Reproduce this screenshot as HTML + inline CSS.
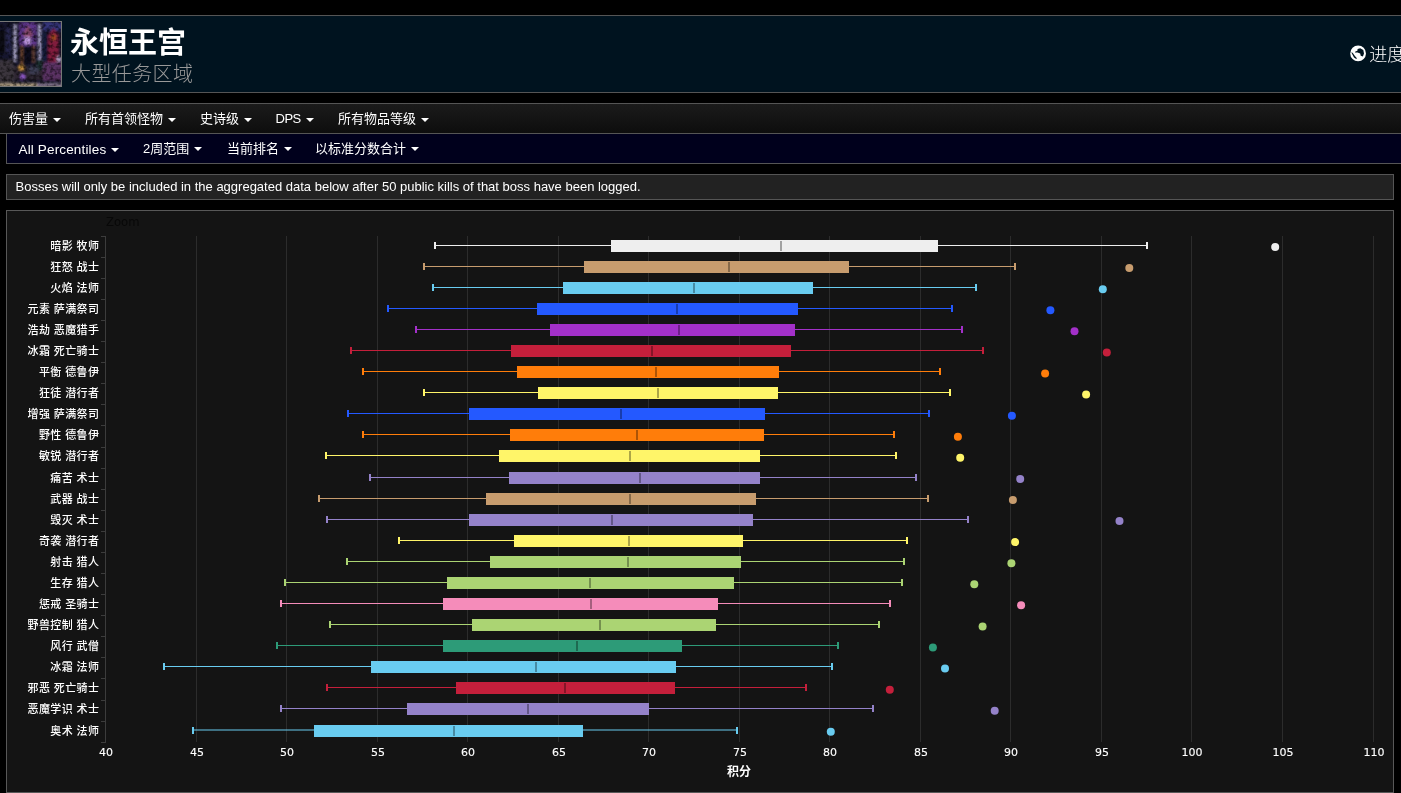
<!DOCTYPE html>
<html lang="zh"><head><meta charset="utf-8"><title>永恒王宫</title>
<style>
html,body{margin:0;padding:0;background:#000;}
body{width:1401px;height:793px;overflow:hidden;position:relative;font-family:"Liberation Sans","Noto Sans CJK SC",sans-serif;color:#fff;}
.abs{position:absolute;box-sizing:border-box;}
#hdr{left:-1px;top:15px;width:1403px;height:78px;background:#00131f;border:1px solid #555;}
#thumb{left:-4px;top:21px;width:66px;height:66px;border:1px solid #777;overflow:hidden;background:#2a2040;}
#title{left:70px;top:25px;font-size:29px;font-weight:bold;line-height:36px;white-space:nowrap;}
#sub{left:71px;top:59.8px;font-weight:300;font-size:20px;letter-spacing:0.4px;line-height:28px;color:#999;white-space:nowrap;}
#prog{left:1369.3px;top:42.5px;font-weight:300;font-size:18px;line-height:24px;white-space:nowrap;}
#menu{left:-1px;top:103px;width:1403px;height:31px;border:1px solid #555;background:linear-gradient(#1b1b1b,#0d0d0d);}
#filt{left:6px;top:134px;width:1400px;height:30px;border:1px solid #555;border-top:none;background:#00001c;}
.mi{position:absolute;font-size:13px;line-height:16px;white-space:nowrap;}
.car{display:inline-block;width:0;height:0;border-left:4px solid transparent;border-right:4px solid transparent;border-top:4px solid #fff;vertical-align:middle;margin-left:5px;}
#note{left:6px;top:174px;width:1388px;height:26px;border:1px solid #555;background:#222;font-size:13px;line-height:24px;padding-left:8.5px;white-space:nowrap;}
#chart{left:6px;top:210px;width:1388px;height:583px;border:1px solid #585858;background:#141414;}
</style></head><body>
<div class="abs" id="hdr"></div>
<div class="abs" id="thumb"><svg width="66" height="66" viewBox="0 0 66 66">
<defs><filter id="bl" x="-20%" y="-20%" width="140%" height="140%"><feGaussianBlur stdDeviation="1.3"/></filter><filter id="bl2"><feGaussianBlur stdDeviation="0.8"/></filter>
<filter id="nz" x="0" y="0" width="100%" height="100%"><feTurbulence type="fractalNoise" baseFrequency="0.3" numOctaves="2" seed="11" result="t"/><feColorMatrix in="t" type="matrix" values="0 0 0 0 0  0 0 0 0 0  0 0 0 0 0  1.5 0 0 0 -0.6"/></filter></defs>
<rect width="66" height="66" fill="#17162c"/>
<g filter="url(#bl)">
<rect x="0" y="0" width="16" height="44" fill="#17172e"/>
<rect x="9" y="6" width="5" height="26" fill="#28284e"/>
<rect x="0" y="8" width="8" height="24" fill="#0c0c18"/>
<rect x="0" y="38" width="17" height="22" fill="#3a363e"/>
<rect x="22" y="0" width="18" height="24" fill="#5c3688"/>
<path d="M31 3 L36 12 L31 21 L26 12 Z" fill="#8a4a70"/>
<ellipse cx="30.5" cy="18.5" rx="3.5" ry="4" fill="#c09ae0"/>
<rect x="23.5" y="23" width="2.4" height="20" fill="#7a4c28"/>
<rect x="35.5" y="23" width="2.4" height="18" fill="#6c4434"/>
<rect x="27" y="24" width="8" height="17" fill="#0a0a1a"/>
<rect x="46" y="0" width="20" height="9" fill="#34347a"/>
<path d="M56.5 6 L62 13 L62 42 L51 42 L51 13 Z" fill="#801c3c"/>
<ellipse cx="56.6" cy="15.5" rx="2.6" ry="3" fill="#a04a1e"/>
<rect x="45" y="10" width="5.5" height="34" fill="#151a3c"/>
<rect x="17" y="44" width="49" height="14" fill="#2e2830"/>
<ellipse cx="24.4" cy="45.5" rx="3" ry="3" fill="#d09840"/>
<ellipse cx="25.7" cy="55" rx="2.5" ry="3.5" fill="#8a56c0"/>
<rect x="46" y="40" width="20" height="19" fill="#5a3064"/>
<ellipse cx="62" cy="37" rx="2.5" ry="3" fill="#b0a0c8"/>
<rect x="0" y="61" width="40" height="5" fill="#a8987e"/>
<rect x="40" y="61" width="26" height="5" fill="#80728a"/>
<rect x="39" y="38" width="7" height="10" fill="#1c3030"/>
<rect x="32" y="44" width="9" height="8" fill="#3a3c52"/>
</g>
<g filter="url(#bl2)">
<rect x="16.4" y="2" width="3.4" height="38" fill="#a8a4c4"/>
<rect x="40.9" y="2" width="3.4" height="36" fill="#aca6cc"/>
</g>
<rect width="66" height="66" fill="#000" filter="url(#nz)"/>
</svg></div>
<div class="abs" id="title">永恒王宫</div>
<div class="abs" id="sub">大型任务区域</div>
<svg class="abs" style="left:1349px;top:44px" width="18" height="18" viewBox="-9 -9 18 18"><circle cx="0.1" cy="0.4" r="7.85" fill="#fff"/><path d="M-0.4,-3.9 L2.2,-4.8 L5.3,-3 L6,0.5 L4.9,3.6 L2.7,2.7 L2.2,0.5 L-0.4,-0.4 L-3.1,-0.6 L-2.6,-1.5 L-0.6,-2.2 Z" fill="#00131f"/><path d="M-6.3,-1.1 L-4.85,0.5 L-3.1,3.1 L-1.1,5.3 L-1.8,6 L-4,4.4 L-5.5,1.8 L-6.4,0 Z" fill="#00131f"/></svg>
<div class="abs" id="prog">进度</div>
<div class="abs" id="menu">
<span class="mi" style="left:9px;top:7.2px">伤害量<i class="car"></i></span>
<span class="mi" style="left:85px;top:7.2px">所有首领怪物<i class="car"></i></span>
<span class="mi" style="left:200px;top:7.2px">史诗级<i class="car"></i></span>
<span class="mi" style="left:275.6px;top:7.2px"><span style="letter-spacing:-0.55px">DPS</span><i class="car"></i></span>
<span class="mi" style="left:338px;top:7.2px">所有物品等级<i class="car"></i></span>
</div>
<div class="abs" id="filt">
<span class="mi" style="left:11.5px;top:7.6px;font-size:13.5px;letter-spacing:0.15px">All Percentiles<i class="car"></i></span>
<span class="mi" style="left:136px;top:6.9px">2周范围<i class="car"></i></span>
<span class="mi" style="left:220px;top:6.9px">当前排名<i class="car"></i></span>
<span class="mi" style="left:308px;top:6.9px">以标准分数合计<i class="car"></i></span>
</div>
<div class="abs" id="note">Bosses will only be included in the aggregated data below after 50 public kills of that boss have been logged.</div>
<div class="abs" id="chart"></div>
<svg width="1401" height="793" viewBox="0 0 1401 793" style="position:absolute;left:0;top:0">
<rect x="196" y="236" width="1" height="506" fill="#2c2c2c"/>
<rect x="286" y="236" width="1" height="506" fill="#2c2c2c"/>
<rect x="377" y="236" width="1" height="506" fill="#2c2c2c"/>
<rect x="467" y="236" width="1" height="506" fill="#2c2c2c"/>
<rect x="558" y="236" width="1" height="506" fill="#2c2c2c"/>
<rect x="648" y="236" width="1" height="506" fill="#2c2c2c"/>
<rect x="739" y="236" width="1" height="506" fill="#2c2c2c"/>
<rect x="829" y="236" width="1" height="506" fill="#2c2c2c"/>
<rect x="920" y="236" width="1" height="506" fill="#2c2c2c"/>
<rect x="1010" y="236" width="1" height="506" fill="#2c2c2c"/>
<rect x="1101" y="236" width="1" height="506" fill="#2c2c2c"/>
<rect x="1191" y="236" width="1" height="506" fill="#2c2c2c"/>
<rect x="1282" y="236" width="1" height="506" fill="#2c2c2c"/>
<rect x="1373" y="236" width="1" height="506" fill="#2c2c2c"/>
<rect x="105" y="236" width="1" height="507" fill="#3c3c3c"/>
<rect x="101" y="236" width="5" height="1" fill="#3c3c3c"/>
<rect x="101" y="257" width="5" height="1" fill="#3c3c3c"/>
<rect x="101" y="278" width="5" height="1" fill="#3c3c3c"/>
<rect x="101" y="299" width="5" height="1" fill="#3c3c3c"/>
<rect x="101" y="320" width="5" height="1" fill="#3c3c3c"/>
<rect x="101" y="341" width="5" height="1" fill="#3c3c3c"/>
<rect x="101" y="362" width="5" height="1" fill="#3c3c3c"/>
<rect x="101" y="383" width="5" height="1" fill="#3c3c3c"/>
<rect x="101" y="404" width="5" height="1" fill="#3c3c3c"/>
<rect x="101" y="425" width="5" height="1" fill="#3c3c3c"/>
<rect x="101" y="447" width="5" height="1" fill="#3c3c3c"/>
<rect x="101" y="468" width="5" height="1" fill="#3c3c3c"/>
<rect x="101" y="489" width="5" height="1" fill="#3c3c3c"/>
<rect x="101" y="510" width="5" height="1" fill="#3c3c3c"/>
<rect x="101" y="531" width="5" height="1" fill="#3c3c3c"/>
<rect x="101" y="552" width="5" height="1" fill="#3c3c3c"/>
<rect x="101" y="573" width="5" height="1" fill="#3c3c3c"/>
<rect x="101" y="594" width="5" height="1" fill="#3c3c3c"/>
<rect x="101" y="615" width="5" height="1" fill="#3c3c3c"/>
<rect x="101" y="636" width="5" height="1" fill="#3c3c3c"/>
<rect x="101" y="657" width="5" height="1" fill="#3c3c3c"/>
<rect x="101" y="678" width="5" height="1" fill="#3c3c3c"/>
<rect x="101" y="700" width="5" height="1" fill="#3c3c3c"/>
<rect x="101" y="721" width="5" height="1" fill="#3c3c3c"/>
<rect x="101" y="742" width="5" height="1" fill="#3c3c3c"/>
<g fill="#EEEEEE">
<rect x="435" y="245" width="712" height="1"/>
<rect x="434" y="242" width="2" height="7"/>
<rect x="1146" y="242" width="2" height="7"/>
<rect x="611" y="240" width="327" height="12"/>
<rect x="780" y="241" width="2" height="10" fill="#000" fill-opacity="0.32"/>
<circle cx="1275.2" cy="247.00" r="4"/>
</g>
<g fill="#C79C6E">
<rect x="424" y="266" width="591" height="1"/>
<rect x="423" y="263" width="2" height="7"/>
<rect x="1014" y="263" width="2" height="7"/>
<rect x="584" y="261" width="265" height="12"/>
<rect x="728" y="262" width="2" height="10" fill="#000" fill-opacity="0.32"/>
<circle cx="1129.3" cy="268.08" r="4"/>
</g>
<g fill="#69CCF0">
<rect x="433" y="287" width="543" height="1"/>
<rect x="432" y="284" width="2" height="7"/>
<rect x="975" y="284" width="2" height="7"/>
<rect x="563" y="282" width="250" height="12"/>
<rect x="693" y="283" width="2" height="10" fill="#000" fill-opacity="0.32"/>
<circle cx="1102.8" cy="289.16" r="4"/>
</g>
<g fill="#2459FF">
<rect x="388" y="308" width="564" height="1"/>
<rect x="387" y="305" width="2" height="7"/>
<rect x="951" y="305" width="2" height="7"/>
<rect x="537" y="303" width="261" height="12"/>
<rect x="676" y="304" width="2" height="10" fill="#000" fill-opacity="0.32"/>
<circle cx="1050.4" cy="310.24" r="4"/>
</g>
<g fill="#A330C9">
<rect x="416" y="329" width="546" height="1"/>
<rect x="415" y="326" width="2" height="7"/>
<rect x="961" y="326" width="2" height="7"/>
<rect x="550" y="324" width="245" height="12"/>
<rect x="678" y="325" width="2" height="10" fill="#000" fill-opacity="0.32"/>
<circle cx="1074.5" cy="331.32" r="4"/>
</g>
<g fill="#C41F3B">
<rect x="351" y="350" width="632" height="1"/>
<rect x="350" y="347" width="2" height="7"/>
<rect x="982" y="347" width="2" height="7"/>
<rect x="511" y="345" width="280" height="12"/>
<rect x="651" y="346" width="2" height="10" fill="#000" fill-opacity="0.32"/>
<circle cx="1106.8" cy="352.40" r="4"/>
</g>
<g fill="#FF7D0A">
<rect x="363" y="371" width="577" height="1"/>
<rect x="362" y="368" width="2" height="7"/>
<rect x="939" y="368" width="2" height="7"/>
<rect x="517" y="366" width="262" height="12"/>
<rect x="655" y="367" width="2" height="10" fill="#000" fill-opacity="0.32"/>
<circle cx="1045.1" cy="373.48" r="4"/>
</g>
<g fill="#FFF569">
<rect x="424" y="392" width="526" height="1"/>
<rect x="423" y="389" width="2" height="7"/>
<rect x="949" y="389" width="2" height="7"/>
<rect x="538" y="387" width="240" height="12"/>
<rect x="657" y="388" width="2" height="10" fill="#000" fill-opacity="0.32"/>
<circle cx="1086.1" cy="394.56" r="4"/>
</g>
<g fill="#2459FF">
<rect x="348" y="413" width="581" height="1"/>
<rect x="347" y="410" width="2" height="7"/>
<rect x="928" y="410" width="2" height="7"/>
<rect x="469" y="408" width="296" height="12"/>
<rect x="620" y="409" width="2" height="10" fill="#000" fill-opacity="0.32"/>
<circle cx="1011.9" cy="415.64" r="4"/>
</g>
<g fill="#FF7D0A">
<rect x="363" y="434" width="531" height="1"/>
<rect x="362" y="431" width="2" height="7"/>
<rect x="893" y="431" width="2" height="7"/>
<rect x="510" y="429" width="254" height="12"/>
<rect x="636" y="430" width="2" height="10" fill="#000" fill-opacity="0.32"/>
<circle cx="957.9" cy="436.72" r="4"/>
</g>
<g fill="#FFF569">
<rect x="326" y="455" width="570" height="1"/>
<rect x="325" y="452" width="2" height="7"/>
<rect x="895" y="452" width="2" height="7"/>
<rect x="499" y="450" width="261" height="12"/>
<rect x="629" y="451" width="2" height="10" fill="#000" fill-opacity="0.32"/>
<circle cx="960.2" cy="457.80" r="4"/>
</g>
<g fill="#9482C9">
<rect x="370" y="477" width="546" height="1"/>
<rect x="369" y="474" width="2" height="7"/>
<rect x="915" y="474" width="2" height="7"/>
<rect x="509" y="472" width="251" height="12"/>
<rect x="639" y="473" width="2" height="10" fill="#000" fill-opacity="0.32"/>
<circle cx="1020.2" cy="478.88" r="4"/>
</g>
<g fill="#C79C6E">
<rect x="319" y="498" width="609" height="1"/>
<rect x="318" y="495" width="2" height="7"/>
<rect x="927" y="495" width="2" height="7"/>
<rect x="486" y="493" width="270" height="12"/>
<rect x="629" y="494" width="2" height="10" fill="#000" fill-opacity="0.32"/>
<circle cx="1012.9" cy="499.96" r="4"/>
</g>
<g fill="#9482C9">
<rect x="327" y="519" width="641" height="1"/>
<rect x="326" y="516" width="2" height="7"/>
<rect x="967" y="516" width="2" height="7"/>
<rect x="469" y="514" width="284" height="12"/>
<rect x="611" y="515" width="2" height="10" fill="#000" fill-opacity="0.32"/>
<circle cx="1119.5" cy="521.04" r="4"/>
</g>
<g fill="#FFF569">
<rect x="399" y="540" width="508" height="1"/>
<rect x="398" y="537" width="2" height="7"/>
<rect x="906" y="537" width="2" height="7"/>
<rect x="514" y="535" width="229" height="12"/>
<rect x="628" y="536" width="2" height="10" fill="#000" fill-opacity="0.32"/>
<circle cx="1015.1" cy="542.12" r="4"/>
</g>
<g fill="#ABD473">
<rect x="347" y="561" width="557" height="1"/>
<rect x="346" y="558" width="2" height="7"/>
<rect x="903" y="558" width="2" height="7"/>
<rect x="490" y="556" width="251" height="12"/>
<rect x="627" y="557" width="2" height="10" fill="#000" fill-opacity="0.32"/>
<circle cx="1011.4" cy="563.20" r="4"/>
</g>
<g fill="#ABD473">
<rect x="285" y="582" width="617" height="1"/>
<rect x="284" y="579" width="2" height="7"/>
<rect x="901" y="579" width="2" height="7"/>
<rect x="447" y="577" width="287" height="12"/>
<rect x="589" y="578" width="2" height="10" fill="#000" fill-opacity="0.32"/>
<circle cx="974.3" cy="584.28" r="4"/>
</g>
<g fill="#F58CBA">
<rect x="281" y="603" width="609" height="1"/>
<rect x="280" y="600" width="2" height="7"/>
<rect x="889" y="600" width="2" height="7"/>
<rect x="443" y="598" width="275" height="12"/>
<rect x="590" y="599" width="2" height="10" fill="#000" fill-opacity="0.32"/>
<circle cx="1021.1" cy="605.36" r="4"/>
</g>
<g fill="#ABD473">
<rect x="330" y="624" width="549" height="1"/>
<rect x="329" y="621" width="2" height="7"/>
<rect x="878" y="621" width="2" height="7"/>
<rect x="472" y="619" width="244" height="12"/>
<rect x="599" y="620" width="2" height="10" fill="#000" fill-opacity="0.32"/>
<circle cx="982.6" cy="626.44" r="4"/>
</g>
<g fill="#2D9B78">
<rect x="277" y="645" width="561" height="1"/>
<rect x="276" y="642" width="2" height="7"/>
<rect x="837" y="642" width="2" height="7"/>
<rect x="443" y="640" width="239" height="12"/>
<rect x="576" y="641" width="2" height="10" fill="#000" fill-opacity="0.32"/>
<circle cx="932.9" cy="647.52" r="4"/>
</g>
<g fill="#69CCF0">
<rect x="164" y="666" width="668" height="1"/>
<rect x="163" y="663" width="2" height="7"/>
<rect x="831" y="663" width="2" height="7"/>
<rect x="371" y="661" width="305" height="12"/>
<rect x="535" y="662" width="2" height="10" fill="#000" fill-opacity="0.32"/>
<circle cx="945" cy="668.60" r="4"/>
</g>
<g fill="#C41F3B">
<rect x="327" y="687" width="479" height="1"/>
<rect x="326" y="684" width="2" height="7"/>
<rect x="805" y="684" width="2" height="7"/>
<rect x="456" y="682" width="219" height="12"/>
<rect x="564" y="683" width="2" height="10" fill="#000" fill-opacity="0.32"/>
<circle cx="889.8" cy="689.68" r="4"/>
</g>
<g fill="#9482C9">
<rect x="281" y="708" width="592" height="1"/>
<rect x="280" y="705" width="2" height="7"/>
<rect x="872" y="705" width="2" height="7"/>
<rect x="407" y="703" width="242" height="12"/>
<rect x="527" y="704" width="2" height="10" fill="#000" fill-opacity="0.32"/>
<circle cx="994.7" cy="710.76" r="4"/>
</g>
<g fill="#69CCF0">
<rect x="193" y="729.5" width="544" height="1"/>
<rect x="192" y="727" width="2" height="7"/>
<rect x="736" y="727" width="2" height="7"/>
<rect x="314" y="725" width="269" height="12"/>
<rect x="453" y="726" width="2" height="10" fill="#000" fill-opacity="0.32"/>
<circle cx="830.8" cy="731.84" r="4"/>
</g>
<g font-family="Liberation Sans, Noto Sans CJK SC, sans-serif" font-size="11" font-weight="500" letter-spacing="0.4" fill="#fff" text-anchor="end">
<text x="99.4" y="250">暗影 牧师</text>
<text x="99.4" y="271">狂怒 战士</text>
<text x="99.4" y="292">火焰 法师</text>
<text x="99.4" y="313">元素 萨满祭司</text>
<text x="99.4" y="334">浩劫 恶魔猎手</text>
<text x="99.4" y="355">冰霜 死亡骑士</text>
<text x="99.4" y="376">平衡 德鲁伊</text>
<text x="99.4" y="397">狂徒 潜行者</text>
<text x="99.4" y="418">增强 萨满祭司</text>
<text x="99.4" y="439">野性 德鲁伊</text>
<text x="99.4" y="460">敏锐 潜行者</text>
<text x="99.4" y="482">痛苦 术士</text>
<text x="99.4" y="503">武器 战士</text>
<text x="99.4" y="524">毁灭 术士</text>
<text x="99.4" y="545">奇袭 潜行者</text>
<text x="99.4" y="566">射击 猎人</text>
<text x="99.4" y="587">生存 猎人</text>
<text x="99.4" y="608">惩戒 圣骑士</text>
<text x="99.4" y="629">野兽控制 猎人</text>
<text x="99.4" y="650">风行 武僧</text>
<text x="99.4" y="671">冰霜 法师</text>
<text x="99.4" y="692">邪恶 死亡骑士</text>
<text x="99.4" y="713">恶魔学识 术士</text>
<text x="99.4" y="735">奥术 法师</text>
</g>
<g font-family="DejaVu Sans, Liberation Sans, sans-serif" font-size="11" fill="#fff" stroke="#fff" stroke-width="0.12" text-anchor="middle">
<text x="105.9" y="756">40</text>
<text x="196.9" y="756">45</text>
<text x="286.9" y="756">50</text>
<text x="377.9" y="756">55</text>
<text x="467.9" y="756">60</text>
<text x="558.9" y="756">65</text>
<text x="648.9" y="756">70</text>
<text x="739.9" y="756">75</text>
<text x="829.9" y="756">80</text>
<text x="920.9" y="756">85</text>
<text x="1010.9" y="756">90</text>
<text x="1101.9" y="756">95</text>
<text x="1191.9" y="756">100</text>
<text x="1282.9" y="756">105</text>
<text x="1373.9" y="756">110</text>
</g>
<text x="739" y="776" font-family="Liberation Sans, Noto Sans CJK SC, sans-serif" font-size="12" font-weight="bold" fill="#fff" text-anchor="middle">积分</text>
<text x="106" y="226" font-family="DejaVu Sans, Liberation Sans, sans-serif" font-size="11.6" fill="#080808">Zoom</text>
</svg>
</body></html>
